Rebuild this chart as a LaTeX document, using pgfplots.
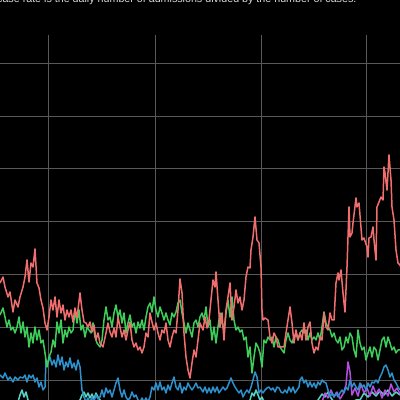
\documentclass[border=0pt]{standalone}
\usepackage{pgfplots}
\pgfplotsset{compat=1.18}
\usepackage{fontspec}
\setmainfont{Liberation Sans}

\definecolor{gridgray}{RGB}{88,88,88}
\definecolor{salmon}{RGB}{240,110,110}
\definecolor{lgreen}{RGB}{60,205,90}
\definecolor{lblue}{RGB}{45,145,205}
\definecolor{lteal}{RGB}{90,210,195}
\definecolor{lpurple}{RGB}{180,80,225}

\begin{document}
\begin{tikzpicture}
  \useasboundingbox (0,0) rectangle (400pt,400pt);
  \fill[black] (0,0) rectangle (400pt,400pt);
  % subtitle, only its lower half is inside the crop
  \node[anchor=base west, inner sep=0pt, text=white!85!black, font=\fontsize{10.7}{12}\selectfont]
    at (-3pt,397pt) {case rate is the daily number of admissions divided by the number of cases.};
  \begin{axis}[
      at={(0pt,0pt)}, anchor=south west,
      scale only axis, width=400pt, height=365pt,
      xmin=0, xmax=400, ymin=0, ymax=365,
      xtick={48,155,261,366}, ytick={20,73,126,179,232,284,337},
      xticklabels={}, yticklabels={},
      major tick length=0pt,
      axis line style={draw=none},
      grid=major,
      major grid style={draw=gridgray, line width=0.8pt},
      clip=true,
      every axis plot/.append style={line width=1.5pt, line join=round, mark=none},
    ]
    % teal
    \addplot[lteal] coordinates {
      (0,-5) (10,-4) (18,-2) (20,5) (22,10) (24,3) (26,8) (28,0) (30,-4) (40,-5) (50,-4) (60,-5) (70,-4)
      (78,-2) (80,0) (82,5) (84,8) (86,3) (88,7) (90,2) (92,6) (94,1) (96,7) (98,3) (100,0) (104,-4)
      (150,-5) (200,-4) (248,-3) (250,0) (252,7) (254,4) (256,10) (258,5) (260,0) (262,3) (264,-2) (270,-5)
      (300,-4) (316,-3) (318,0) (322,6) (325,3) (328,8) (331,2) (334,-2) (340,-4) (350,-3) (356,0) (360,0)
      (364,7) (368,3) (372,8) (376,4) (380,9) (384,5) (388,10) (392,4) (396,8) (400,5)
    };
    % purple
    \addplot[lpurple] coordinates {
      (322,-2) (325,7) (328,2) (331,10) (334,3) (337,8) (340,1) (343,6) (346,15) (348,38) (350,28)
      (352,5) (355,12) (358,4) (361,16) (364,7) (367,12) (370,4) (373,14) (376,6) (379,11) (382,2)
      (385,10) (388,4) (391,16) (394,8) (397,12) (400,6)
    };
    % blue
    \addplot[lblue] coordinates {
      (0,25) (3,22) (5,27) (8,20) (10,23) (13,18) (15,23) (18,20) (20,23) (23,22) (25,25) (27,18)
      (29,25) (31,22) (33,25) (35,18) (37,22) (39,13) (41,18) (43,10) (45,13) (46,40) (48,37) (50,43)
      (52,35) (54,40) (56,33) (58,45) (60,35) (62,43) (64,30) (66,38) (68,33) (70,42) (72,32) (74,37)
      (76,30) (78,40) (80,33) (82,10) (84,3) (86,-2) (88,2) (90,-3) (92,3) (94,-1) (96,5) (98,1)
      (100,3) (102,10) (104,3) (106,12) (108,7) (110,10) (112,3) (114,10) (116,17) (118,22) (120,10)
      (122,3) (124,10) (126,3) (128,0) (130,2) (132,8) (134,3) (136,5) (138,0) (140,-2) (142,2)
      (144,-2) (146,2) (148,-2) (150,3) (152,13) (154,10) (156,17) (158,10) (160,18) (162,10) (164,13)
      (166,7) (168,15) (170,10) (172,17) (174,23) (176,13) (178,10) (180,17) (182,7) (184,13) (186,10)
      (188,17) (190,13) (192,10) (194,13) (196,17) (198,12) (200,13) (203,8) (205,13) (207,7) (209,12)
      (211,7) (213,13) (215,8) (217,13) (219,7) (221,10) (223,13) (225,10) (227,12) (229,17) (231,22)
      (233,17) (235,13) (237,10) (239,7) (241,10) (243,3) (245,7) (247,10) (249,7) (251,13) (253,20)
      (255,28) (257,23) (259,7) (261,10) (263,7) (265,10) (267,12) (269,13) (271,10) (273,12) (275,8)
      (277,13) (279,12) (281,8) (283,7) (285,10) (287,7) (289,13) (291,8) (293,13) (295,7) (297,10)
      (299,13) (300,20) (302,23) (304,17) (306,20) (308,13) (310,18) (312,13) (314,17) (316,12)
      (318,18) (320,15) (322,20) (324,18) (326,17) (328,10) (330,3) (332,7) (334,3) (336,7) (338,3)
      (340,7) (342,10) (344,7) (346,13) (348,10) (350,20) (352,13) (354,17) (356,13) (358,10) (360,17)
      (362,13) (364,15) (366,10) (368,17) (370,13) (372,18) (374,17) (376,20) (378,17) (380,23)
      (382,27) (384,33) (386,35) (388,30) (390,23) (392,27) (394,20) (396,17) (398,13) (400,10)
    };
    % green
    \addplot[lgreen] coordinates {
      (0,85) (3,92) (5,83) (7,73) (9,80) (11,70) (13,73) (15,67) (17,73) (19,83) (21,67) (23,78)
      (25,63) (27,73) (29,53) (31,67) (33,57) (35,73) (37,60) (39,70) (41,57) (43,60) (45,47) (47,33)
      (49,43) (51,48) (53,60) (55,53) (57,78) (59,67) (61,80) (63,57) (65,70) (67,63) (69,73) (71,67)
      (73,70) (75,90) (77,77) (79,90) (81,70) (83,75) (85,63) (87,73) (89,70) (91,67) (93,77) (95,63)
      (97,57) (100,53) (102,60) (104,80) (106,93) (108,80) (110,83) (112,73) (114,87) (116,95)
      (118,83) (120,90) (122,77) (124,87) (126,67) (128,77) (130,85) (132,73) (134,77) (136,67)
      (138,78) (140,72) (142,80) (144,70) (146,83) (148,93) (150,97) (152,88) (154,103) (156,90)
      (158,83) (160,93) (162,87) (164,80) (166,87) (168,80) (170,75) (172,87) (174,83) (176,88)
      (178,97) (180,100) (182,87) (184,77) (186,67) (188,77) (190,70) (192,63) (194,77) (196,80)
      (198,73) (200,83) (202,87) (204,80) (206,93) (208,73) (210,80) (212,60) (214,73) (216,57)
      (218,73) (220,87) (222,77) (224,70) (226,87) (228,100) (230,83) (232,103) (234,80) (236,70)
      (238,73) (240,68) (242,70) (244,60) (246,63) (248,43) (250,53) (252,27) (254,43) (256,57)
      (258,53) (260,47) (262,33) (264,60) (266,57) (268,63) (270,60) (272,63) (274,53) (276,63)
      (278,60) (280,53) (282,50) (284,47) (286,60) (288,67) (290,60) (292,57) (294,63) (296,67)
      (298,60) (300,67) (302,70) (304,67) (306,70) (308,60) (310,67) (312,60) (314,63) (316,60)
      (318,67) (320,60) (322,73) (324,88) (326,77) (328,73) (330,70) (332,63) (334,67) (336,60)
      (338,57) (340,63) (342,50) (344,53) (346,63) (348,57) (350,67) (352,63) (354,50) (356,43)
      (358,70) (360,57) (362,50) (364,53) (366,40) (368,47) (370,53) (372,43) (374,53) (376,50)
      (378,40) (380,50) (382,60) (384,63) (386,53) (388,63) (390,57) (392,50) (394,53) (396,47)
      (398,50) (400,50)
    };
    % red
    \addplot[salmon] coordinates {
      (0,117) (3,123) (5,113) (8,103) (10,108) (13,88) (15,100) (18,93) (20,103) (23,113) (25,123)
      (27,140) (29,118) (31,137) (33,133) (35,151) (37,117) (39,112) (41,100) (43,92) (45,77) (47,70)
      (49,83) (51,100) (53,90) (55,103) (57,83) (59,100) (61,87) (63,95) (65,80) (67,90) (69,83)
      (71,90) (73,78) (75,92) (77,82) (80,107) (82,90) (84,78) (86,77) (88,73) (90,78) (92,68)
      (94,75) (96,60) (98,67) (100,57) (103,53) (106,67) (108,77) (110,68) (112,63) (114,72) (116,63)
      (118,83) (120,73) (122,63) (124,70) (126,60) (128,70) (130,78) (132,60) (134,53) (136,57)
      (138,50) (140,53) (142,47) (144,53) (146,67) (148,63) (150,87) (152,78) (154,70) (156,77)
      (158,67) (160,60) (162,70) (164,67) (166,77) (168,60) (170,53) (172,63) (174,70) (176,67)
      (178,90) (180,121) (182,107) (184,67) (186,43) (188,30) (190,22) (192,37) (194,50) (196,43)
      (198,60) (200,77) (203,70) (205,83) (207,72) (209,80) (211,100) (213,120) (215,113) (216,128)
      (218,100) (220,73) (222,87) (224,60) (226,90) (228,103) (230,117) (232,80) (234,93) (236,110)
      (238,97) (240,103) (242,90) (244,100) (246,123) (248,133) (250,132) (251,150) (253,163)
      (255,183) (257,160) (259,157) (261,133) (262,90) (263,80) (265,82) (268,80) (270,63) (272,57)
      (274,67) (276,63) (278,53) (280,53) (282,53) (284,53) (286,67) (288,80) (290,93) (292,77)
      (294,57) (296,70) (298,60) (300,67) (302,60) (304,77) (306,60) (308,73) (310,78) (312,57)
      (314,47) (316,53) (318,50) (320,63) (322,60) (324,87) (326,73) (328,70) (330,87) (332,80)
      (334,80) (336,117) (338,127) (339,120) (341,130) (343,107) (345,88) (347,133) (349,193)
      (350,163) (352,167) (353,177) (356,202) (357,193) (359,197) (362,160) (364,162) (367,153)
      (368,143) (369,162) (371,163) (373,173) (374,160) (376,140) (377,193) (379,198) (381,203)
      (383,200) (384,233) (385,227) (387,210) (389,245) (391,220) (392,193) (394,180) (396,150)
      (398,137) (400,135) (402,130)
    };
  \end{axis}
\end{tikzpicture}
\end{document}
